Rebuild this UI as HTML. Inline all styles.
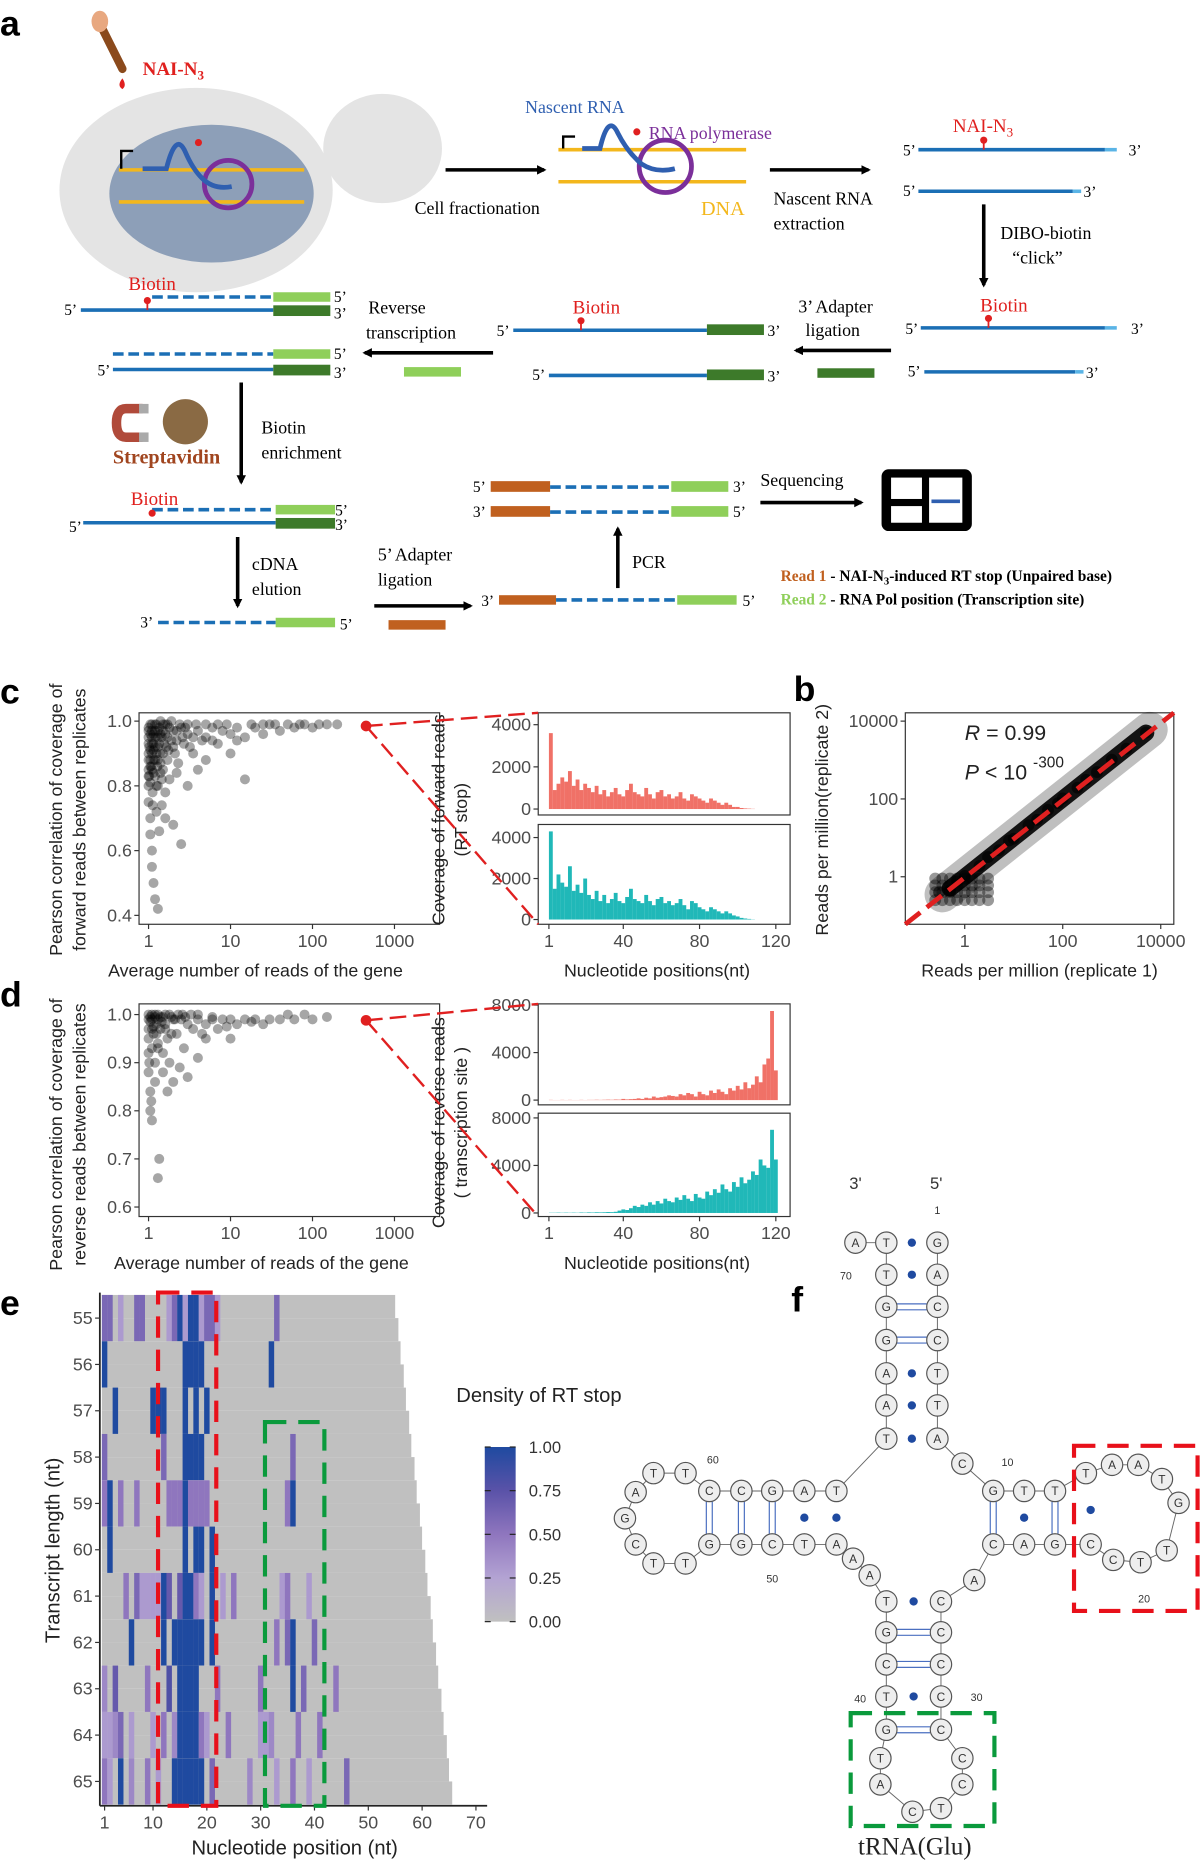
<!DOCTYPE html>
<html><head><meta charset="utf-8"><style>
html,body{margin:0;padding:0;background:#fff;}
svg{display:block;}
.sr{font-family:"Liberation Serif",serif;}
.ss{font-family:"Liberation Sans",sans-serif;}
</style></head><body>
<svg id="fig" width="1200" height="1864" viewBox="0 0 1010 1569" xmlns="http://www.w3.org/2000/svg">
<defs>
<marker id="ah" markerWidth="8" markerHeight="8" refX="6" refY="4" orient="auto" markerUnits="userSpaceOnUse"><path d="M0,0 L8,4 L0,8 z" fill="#000"/></marker>
<linearGradient id="cbar" x1="0" y1="1" x2="0" y2="0">
<stop offset="0" stop-color="#c0c0c0"/><stop offset="0.25" stop-color="#b3a3d3"/><stop offset="0.5" stop-color="#8f76be"/><stop offset="0.75" stop-color="#5a52a8"/><stop offset="1" stop-color="#1f4aa0"/></linearGradient>
</defs>

<!-- ============ PANEL A ============ -->
<g class="sr">
<text x="0" y="30" font-family="Liberation Sans" font-weight="900" font-size="30">a</text>
<g>
<line x1="84" y1="20" x2="103" y2="58" stroke="#8b4a1c" stroke-width="7" stroke-linecap="round"/>
<ellipse cx="84" cy="18" rx="7" ry="9" fill="#e8a880"/>
<path d="M103,66 q4,6 0,9 q-5,-3 0,-9z" fill="#e02020"/>
</g>
<text x="120" y="63" fill="#e0201e" font-weight="bold" font-size="16">NAI-N<tspan font-size="11" dy="4">3</tspan></text>
<ellipse cx="322" cy="125" rx="50" ry="46" fill="#e4e4e4"/>
<ellipse cx="165" cy="160" rx="115" ry="86" fill="#e4e4e4"/>
<ellipse cx="178" cy="163" rx="86" ry="58" fill="#8d9fb8"/>
<line x1="100" y1="143" x2="256" y2="143" stroke="#f3b71c" stroke-width="3"/>
<line x1="100" y1="170" x2="256" y2="170" stroke="#f3b71c" stroke-width="3"/>
<circle cx="192" cy="155" r="20" fill="none" stroke="#7b2f9a" stroke-width="4"/>
<path d="M120,142 L140,142 Q148,110 156,128 Q162,142 170,150 Q180,160 195,157" fill="none" stroke="#2f5fb0" stroke-width="4"/>
<path d="M102,142 L102,127 L112,127" fill="none" stroke="#000" stroke-width="2"/>
<circle cx="167" cy="120" r="3" fill="#e02020"/>
<line x1="375" y1="143" x2="458" y2="143" stroke="#000" stroke-width="3" marker-end="url(#ah)"/>
<text x="349" y="180" font-size="15">Cell fractionation</text>
<text x="442" y="95" font-size="15" fill="#2f5fb0">Nascent RNA</text>
<text x="546" y="117" font-size="15" fill="#7b2f9a">RNA polymerase</text>
<line x1="470" y1="126" x2="628" y2="126" stroke="#f3b71c" stroke-width="3"/>
<line x1="470" y1="153" x2="628" y2="153" stroke="#f3b71c" stroke-width="3"/>
<circle cx="560" cy="140" r="22" fill="none" stroke="#7b2f9a" stroke-width="4"/>
<path d="M490,125 L505,125 Q512,95 520,112 Q528,128 540,138 Q552,146 568,142" fill="none" stroke="#2f5fb0" stroke-width="4"/>
<path d="M474,125 L474,115 L484,115" fill="none" stroke="#000" stroke-width="2"/>
<circle cx="536" cy="111" r="3" fill="#e02020"/>
<text x="590" y="181" font-size="17" fill="#f3b71c">DNA</text>
<line x1="648" y1="143" x2="731" y2="143" stroke="#000" stroke-width="3" marker-end="url(#ah)"/>
<text x="651" y="172" font-size="15">Nascent RNA</text>
<text x="651" y="193" font-size="15">extraction</text>
<text x="802" y="111" font-size="16" fill="#e0201e">NAI-N<tspan font-size="11" dy="4">3</tspan></text>
<text x="760" y="131" font-size="13">5’</text><line x1="773" y1="126" x2="930" y2="126" stroke="#1b6fb5" stroke-width="3"/><line x1="930" y1="126" x2="940" y2="126" stroke="#5ab4e6" stroke-width="3"/><text x="950" y="131" font-size="13">3’</text>
<circle cx="828" cy="118" r="3" fill="#e02020"/><line x1="828" y1="118" x2="828" y2="126" stroke="#e02020" stroke-width="1.5"/>
<text x="760" y="165" font-size="13">5’</text><line x1="773" y1="161" x2="903" y2="161" stroke="#1b6fb5" stroke-width="3"/><line x1="903" y1="161" x2="910" y2="161" stroke="#5ab4e6" stroke-width="3"/><text x="912" y="166" font-size="13">3’</text>
<line x1="828" y1="172" x2="828" y2="240" stroke="#000" stroke-width="3" marker-end="url(#ah)"/>
<text x="842" y="201" font-size="15">DIBO-biotin</text><text x="852" y="222" font-size="15">“click”</text>
<text x="825" y="262" font-size="16" fill="#e0201e">Biotin</text>
<text x="762" y="281" font-size="13">5’</text><line x1="775" y1="276" x2="930" y2="276" stroke="#1b6fb5" stroke-width="3"/><line x1="930" y1="276" x2="940" y2="276" stroke="#5ab4e6" stroke-width="3"/><text x="952" y="281" font-size="13">3’</text>
<circle cx="832" cy="268" r="3" fill="#e02020"/><line x1="832" y1="268" x2="832" y2="276" stroke="#e02020" stroke-width="1.5"/>
<text x="764" y="317" font-size="13">5’</text><line x1="778" y1="313" x2="905" y2="313" stroke="#1b6fb5" stroke-width="3"/><line x1="905" y1="313" x2="912" y2="313" stroke="#5ab4e6" stroke-width="3"/><text x="914" y="318" font-size="13">3’</text>
<line x1="750" y1="295" x2="670" y2="295" stroke="#000" stroke-width="3" marker-end="url(#ah)"/>
<rect x="688" y="310" width="48" height="8" fill="#3d7a2a"/>
<text x="672" y="263" font-size="15">3’ Adapter</text><text x="678" y="283" font-size="15">ligation</text>
<text x="482" y="264" font-size="16" fill="#e0201e">Biotin</text>
<text x="418" y="283" font-size="13">5’</text><line x1="432" y1="278" x2="595" y2="278" stroke="#1b6fb5" stroke-width="3"/><rect x="595" y="273" width="48" height="9" fill="#3d7a2a"/><text x="646" y="283" font-size="13">3’</text>
<circle cx="489" cy="270" r="3" fill="#e02020"/><line x1="489" y1="270" x2="489" y2="278" stroke="#e02020" stroke-width="1.5"/>
<text x="448" y="320" font-size="13">5’</text><line x1="462" y1="316" x2="595" y2="316" stroke="#1b6fb5" stroke-width="3"/><rect x="595" y="311" width="48" height="9" fill="#3d7a2a"/><text x="646" y="321" font-size="13">3’</text>
<line x1="415" y1="297" x2="307" y2="297" stroke="#000" stroke-width="3" marker-end="url(#ah)"/>
<rect x="340" y="309" width="48" height="8" fill="#8fcf5a"/>
<text x="310" y="264" font-size="15">Reverse</text><text x="308" y="285" font-size="15">transcription</text>
<text x="108" y="244" font-size="16" fill="#e0201e">Biotin</text>
<line x1="128" y1="250" x2="230" y2="250" stroke="#1b6fb5" stroke-width="3" stroke-dasharray="9,4"/><rect x="230" y="246" width="48" height="8" fill="#8fcf5a"/><text x="281" y="254" font-size="13">5’</text>
<text x="54" y="265" font-size="13">5’</text><line x1="68" y1="261" x2="230" y2="261" stroke="#1b6fb5" stroke-width="3"/><rect x="230" y="257" width="48" height="9" fill="#3d7a2a"/><text x="281" y="268" font-size="13">3’</text>
<circle cx="124" cy="253" r="3" fill="#e02020"/><line x1="124" y1="253" x2="124" y2="261" stroke="#e02020" stroke-width="1.5"/>
<line x1="95" y1="298" x2="230" y2="298" stroke="#1b6fb5" stroke-width="3" stroke-dasharray="9,4"/><rect x="230" y="294" width="48" height="8" fill="#8fcf5a"/><text x="281" y="302" font-size="13">5’</text>
<text x="82" y="316" font-size="13">5’</text><line x1="95" y1="311" x2="230" y2="311" stroke="#1b6fb5" stroke-width="3"/><rect x="230" y="307" width="48" height="9" fill="#3d7a2a"/><text x="281" y="318" font-size="13">3’</text>
<line x1="203" y1="322" x2="203" y2="406" stroke="#000" stroke-width="3" marker-end="url(#ah)"/>
<path d="M120,344 L106,344 Q98,344 98,356 Q98,368 106,368 L120,368" fill="none" stroke="#b04a3a" stroke-width="8"/>
<rect x="117" y="340" width="8" height="8" fill="#aaa"/><rect x="117" y="364" width="8" height="8" fill="#aaa"/>
<circle cx="156" cy="355" r="19" fill="#8a6a44"/>
<text x="95" y="390" font-size="17" font-weight="bold" fill="#a0451f">Streptavidin</text>
<text x="220" y="365" font-size="15">Biotin</text><text x="220" y="386" font-size="15">enrichment</text>
<text x="110" y="425" font-size="16" fill="#e0201e">Biotin</text>
<line x1="128" y1="429" x2="232" y2="429" stroke="#1b6fb5" stroke-width="3" stroke-dasharray="9,4"/><rect x="232" y="425" width="50" height="8" fill="#8fcf5a"/><text x="282" y="434" font-size="13">5’</text>
<text x="58" y="448" font-size="13">5’</text><line x1="70" y1="440" x2="232" y2="440" stroke="#1b6fb5" stroke-width="3"/><rect x="232" y="436" width="50" height="9" fill="#3d7a2a"/><text x="282" y="446" font-size="13">3’</text>
<circle cx="128" cy="432" r="3" fill="#e02020"/>
<line x1="200" y1="452" x2="200" y2="510" stroke="#000" stroke-width="3" marker-end="url(#ah)"/>
<text x="212" y="480" font-size="15">cDNA</text><text x="212" y="501" font-size="15">elution</text>
<text x="118" y="528" font-size="13">3’</text><line x1="133" y1="524" x2="232" y2="524" stroke="#1b6fb5" stroke-width="3" stroke-dasharray="9,4"/><rect x="232" y="520" width="50" height="8" fill="#8fcf5a"/><text x="286" y="530" font-size="13">5’</text>
<line x1="315" y1="510" x2="396" y2="510" stroke="#000" stroke-width="3" marker-end="url(#ah)"/>
<rect x="327" y="522" width="48" height="8" fill="#c0601f"/>
<text x="318" y="472" font-size="15">5’ Adapter</text><text x="318" y="493" font-size="15">ligation</text>
<text x="405" y="510" font-size="13">3’</text><rect x="420" y="501" width="48" height="8" fill="#c0601f"/><line x1="468" y1="505" x2="570" y2="505" stroke="#1b6fb5" stroke-width="3" stroke-dasharray="9,4"/><rect x="570" y="501" width="50" height="8" fill="#8fcf5a"/><text x="625" y="510" font-size="13">5’</text>
<line x1="520" y1="495" x2="520" y2="445" stroke="#000" stroke-width="3" marker-end="url(#ah)"/>
<text x="532" y="478" font-size="15">PCR</text>
<text x="398" y="414" font-size="13">5’</text><rect x="413" y="405" width="50" height="9" fill="#c0601f"/><line x1="463" y1="410" x2="565" y2="410" stroke="#1b6fb5" stroke-width="3" stroke-dasharray="9,4"/><rect x="565" y="405" width="48" height="9" fill="#8fcf5a"/><text x="617" y="414" font-size="13">3’</text>
<text x="398" y="435" font-size="13">3’</text><rect x="413" y="426" width="50" height="9" fill="#c0601f"/><line x1="463" y1="431" x2="565" y2="431" stroke="#1b6fb5" stroke-width="3" stroke-dasharray="9,4"/><rect x="565" y="426" width="48" height="9" fill="#8fcf5a"/><text x="617" y="435" font-size="13">5’</text>
<line x1="640" y1="423" x2="725" y2="423" stroke="#000" stroke-width="3" marker-end="url(#ah)"/>
<text x="640" y="409" font-size="15">Sequencing</text>
<g>
<rect x="742" y="395" width="76" height="52" rx="6" fill="#000"/>
<rect x="750" y="402" width="26" height="18" fill="#fff"/><rect x="782" y="402" width="28" height="38" fill="#fff"/>
<rect x="750" y="426" width="26" height="14" fill="#fff"/><line x1="784" y1="422" x2="808" y2="422" stroke="#2f5fb0" stroke-width="3"/>
</g>
<text x="657" y="489" font-size="13" font-weight="bold"><tspan fill="#c0601f">Read 1</tspan> - NAI-N<tspan font-size="9" dy="3">3</tspan><tspan dy="-3">-induced RT stop (Unpaired base)</tspan></text>
<text x="657" y="509" font-size="13" font-weight="bold"><tspan fill="#8fcf5a">Read 2</tspan> - RNA Pol position (Transcription site)</text>
</g>

<g class="ss" font-family="Liberation Sans">
<text x="0" y="592" font-weight="900" font-size="30">c</text>
<text x="668" y="590" font-weight="900" font-size="30">b</text>
<text x="0" y="847" font-weight="900" font-size="30">d</text>
<text x="0" y="1107" font-weight="900" font-size="30">e</text>
<text x="666" y="1104" font-weight="900" font-size="30">f</text>
</g>
<g id="charts" font-family="Liberation Sans"></g>
<g id="trna" font-family="Liberation Sans"></g>
</svg>
<script>
const NS='http://www.w3.org/2000/svg';
// ---------- data ----------
const scatterC=[[1,0.98],[1,0.95],[1,0.9],[1,0.85],[1,0.8],[1,0.75],[1.05,0.7],[1.05,0.65],[1.1,0.6],[1.1,0.55],[1.15,0.5],[1.2,0.45],[1.3,0.42],[1.1,0.93],[1.2,0.88],[1.3,0.92],[1.3,0.8],[1.4,0.96],[1.5,0.85],[1.5,0.9],[1.6,0.78],[1.7,0.95],[1.8,0.82],[2,0.92],[2,0.68],[2.2,0.97],[2.3,0.87],[2.5,0.62],[2.7,0.93],[3,0.96],[3,0.8],[3.5,0.9],[4,0.97],[4,0.85],[5,0.95],[5,0.88],[6,0.98],[7,0.93],[8,0.97],[10,0.96],[10,0.9],[12,0.98],[15,0.95],[15,0.82],[20,0.98],[25,0.96],[30,0.99],[40,0.97],[50,0.99],[60,0.98],[80,0.99],[100,0.98],[120,0.99],[150,0.99],[1.2,0.99],[1.4,1.0],[1.6,0.99],[1.9,1.0],[2.4,0.99],[1.1,0.97],[1.25,0.72],[1.35,0.66],[1.45,0.74],[1.15,0.84],[1.7,0.88],[2.1,0.9],[1.05,0.88],[1.9,0.94],[2.8,0.98],[3.8,0.99],[6,0.94],[9,0.99],[18,0.99],[35,0.99],[450,0.985],[1.02,0.92],[1.08,0.86],[1.12,0.78],[1.22,0.95],[1.28,0.86],[1.38,0.9],[1.5,0.97],[1.65,0.92],[1.05,0.99],[1.15,0.91],[1.02,0.83],[2.6,0.95],[3.2,0.92],[4.5,0.94],[1.8,0.98],[1.3,0.97],[1.15,0.96],[1.45,0.82],[2.2,0.84],[1.6,0.7],
[1,0.97],[1,0.93],[1,0.88],[1,0.83],[1.05,0.96],[1.05,0.91],[1.05,0.86],[1.05,0.81],[1.1,0.99],[1.1,0.95],[1.1,0.9],[1.1,0.85],[1.15,0.93],[1.15,0.88],[1.2,0.97],[1.2,0.92],[1.2,0.83],[1.25,0.99],[1.25,0.9],[1.3,0.95],[1.3,0.88],[1.35,0.98],[1.35,0.93],[1.4,0.87],[1.45,0.95],[1.5,0.99],[1.55,0.93],[1.6,0.96],[1.7,0.99],[1.75,0.91],[2,0.97],[2.2,0.94],[2.5,0.98],[3,0.99],[3.5,0.95],[5,0.99],[7,0.99],[12,0.94],[25,0.99],[70,0.99],[200,0.99],[1.4,0.84],[1.25,0.8],[1.12,0.74]];
const scatterD=[[1,0.99],[1,0.97],[1,0.95],[1,0.92],[1,0.88],[1.05,0.84],[1.05,0.8],[1.1,0.78],[1.1,0.93],[1.15,0.96],[1.2,0.9],[1.2,0.86],[1.3,0.99],[1.3,0.94],[1.35,0.7],[1.3,0.66],[1.4,0.97],[1.5,0.92],[1.5,0.88],[1.6,0.98],[1.7,0.95],[1.8,0.9],[2,0.99],[2,0.86],[2.2,0.96],[2.5,0.99],[2.7,0.93],[3,0.98],[3,0.87],[3.5,0.97],[4,0.99],[4,0.91],[5,0.98],[5,0.95],[6,0.99],[7,0.97],[8,0.99],[10,0.99],[10,0.95],[12,0.98],[15,0.99],[20,0.99],[25,0.98],[30,0.99],[40,0.99],[50,1.0],[60,0.99],[80,1.0],[100,0.99],[150,0.995],[1.1,1.0],[1.2,1.0],[1.4,0.995],[1.6,1.0],[1.9,0.995],[2.3,1.0],[2.8,0.995],[3.3,1.0],[1.05,0.985],[1.15,0.975],[1.25,0.98],[1.45,0.985],[450,0.988],[1.02,0.9],[1.08,0.82],[1.7,0.84],[2.4,0.89],[1.9,0.96],[4.5,0.96],[9,0.975],[18,0.985],[1.3,0.93],
[1,1.0],[1.05,0.995],[1.1,0.99],[1.2,0.995],[1.3,1.0],[1.5,0.995],[1.8,1.0],[2.1,0.99],[2.6,1.0],[4,1.0],[6,0.995],[1.1,0.97],[1.25,0.96],[1.6,0.97]];
const histCats=[];for(let i=0;i<60;i++)histCats.push(1+i*2);
const fwdRep1=[3600,900,1200,1500,1300,1800,1100,1400,900,1200,1000,800,1100,700,900,600,800,1000,700,600,900,1200,800,700,600,1000,700,500,800,900,600,700,500,600,800,500,400,700,600,500,400,300,500,400,300,200,300,200,100,100,50,30,20,10,0,0,0,0,0,0];
const fwdRep2=[4300,1500,2200,1800,1600,2600,1400,1700,1300,2000,1200,1000,1400,900,1200,800,1000,1300,900,800,1100,1500,1000,900,800,1200,900,700,1000,1100,800,900,700,800,1000,700,500,900,800,600,500,400,600,500,400,300,400,300,200,150,80,50,30,10,0,0,0,0,0,0];
const revRep1=[20,10,10,20,10,20,10,10,20,10,20,20,30,20,30,40,30,50,40,100,60,80,100,150,100,200,150,300,200,250,300,400,350,300,500,400,600,500,300,700,500,400,800,600,900,700,500,1000,800,1200,900,1500,1000,1300,2000,1500,3000,3500,7500,2500];
const revRep2=[20,20,30,20,30,20,30,20,40,30,50,40,60,50,60,80,70,100,200,300,250,400,600,500,700,600,900,700,1000,800,1200,1000,900,1300,1100,1500,1200,1000,1600,1300,1200,1800,1500,2000,1700,2400,2000,1800,2600,2200,3000,2500,2800,3500,3200,4500,4000,3800,7000,4500];
const corrRep1=[0.3,0.5,0.7,1,2,3,5,8,10,20,30,50,80,100,200,300,500,1000,2000,5000];
const corrRep2=[0.4,0.45,0.75,1.05,1.9,3.2,4.8,8.5,9.5,21,29,52,78,103,195,310,490,1020,1950,5100];
const lowRep1=[0.25,0.35,0.5,0.7,1,1.4,2,3];
const lowLevels=[0.25,0.4,0.6,0.9];
const heatLengths=[55,56,57,58,59,60,61,62,63,64,65];
const heatValues=[
 [[1,0.6],[2,0.6],[4,0.3],[7,0.6],[8,0.6],[13,0.3],[14,0.6],[15,1],[16,0.3],[17,1],[18,1],[19,0.3],[20,0.6],[21,0.6],[22,0.3],[33,0.6]],
 [[1,1],[16,1],[17,1],[18,1],[19,1],[32,1]],
 [[3,1],[10,1],[11,1],[12,1],[16,1],[18,1],[20,1]],
 [[1,0.6],[12,0.6],[16,1],[17,1],[18,1],[19,1],[36,0.6]],
 [[1,0.5],[2,1],[4,0.5],[7,0.5],[13,0.5],[14,0.5],[15,0.5],[16,1],[17,0.5],[18,0.5],[19,0.5],[20,0.5],[35,0.5],[36,1]],
 [[2,1],[16,1],[18,1],[19,1],[21,1]],
 [[5,0.5],[7,0.6],[8,0.3],[9,0.3],[10,0.3],[11,0.3],[12,1],[13,0.7],[15,0.7],[16,1],[17,1],[18,0.5],[19,0.3],[21,1],[23,0.3],[25,0.5],[34,0.3],[35,0.5],[39,0.3]],
 [[6,1],[12,1],[14,1],[15,1],[16,1],[17,1],[18,1],[19,1],[21,1],[33,0.5],[35,0.6],[36,1],[40,0.6]],
 [[1,0.4],[3,0.7],[9,0.5],[13,0.8],[15,1],[16,1],[17,1],[18,1],[22,0.5],[30,0.5],[36,1],[38,0.6],[44,0.5]],
 [[1,0.3],[2,0.3],[3,0.4],[4,0.6],[6,0.3],[10,0.3],[12,0.5],[14,0.4],[15,1],[16,1],[17,1],[18,1],[19,0.5],[20,0.3],[24,0.5],[30,0.3],[31,0.3],[32,0.4],[37,0.5],[41,0.5]],
 [[1,0.5],[2,0.3],[4,1],[6,0.4],[9,0.5],[11,0.3],[14,1],[15,1],[16,1],[17,1],[18,1],[19,1],[21,0.6],[28,0.4],[33,0.3],[36,0.5],[39,0.3],[46,0.6]]];
const trnaNodes=[[789,1046,'G'],[789,1073,'A'],[789,1100,'C'],[789,1128,'C'],[789,1156,'T'],[789,1183,'T'],[789,1211,'A'],[810,1232,'C'],[836,1255,'G'],[862,1255,'T'],[888,1255,'T'],[914,1240,'T'],[936,1233,'A'],[958,1233,'A'],[978,1245,'T'],[992,1265,'G'],[982,1305,'T'],[960,1315,'T'],[937,1313,'C'],[918,1300,'C'],[888,1300,'G'],[862,1300,'A'],[836,1300,'C'],[820,1330,'A'],[792,1348,'C'],[792,1374,'C'],[792,1401,'C'],[792,1428,'C'],[792,1456,'C'],[810,1480,'C'],[810,1502,'C'],[792,1522,'T'],[768,1525,'C'],[741,1502,'A'],[741,1480,'T'],[746,1456,'G'],[746,1428,'T'],[746,1401,'C'],[746,1374,'G'],[746,1348,'T'],[732,1326,'A'],[718,1312,'A'],[704,1300,'A'],[677,1300,'T'],[650,1300,'C'],[624,1300,'G'],[597,1300,'G'],[577,1316,'T'],[550,1316,'T'],[535,1300,'C'],[526,1278,'G'],[535,1256,'A'],[550,1240,'T'],[577,1240,'T'],[597,1255,'C'],[624,1255,'C'],[650,1255,'G'],[677,1255,'A'],[704,1255,'T'],[746,1211,'T'],[746,1183,'A'],[746,1156,'A'],[746,1128,'G'],[746,1100,'G'],[746,1073,'T'],[746,1046,'T'],[720,1046,'A']];

// ---------- helpers ----------
const charts=document.getElementById('charts');
function mk(tag,attrs,parent){const e=document.createElementNS(NS,tag);for(const k in attrs)e.setAttribute(k,attrs[k]);(parent||charts).appendChild(e);return e;}
function txt(x,y,s,size,anchor,parent,extra){const t=mk('text',Object.assign({x:x,y:y,'font-size':size,'text-anchor':anchor||'start',fill:'#222'},extra||{}),parent);t.textContent=s;return t;}
function frame(x,y,w,h,name){const r=mk('rect',{x:x,y:y,width:w,height:h,fill:'none',stroke:'#333','stroke-width':1});

}
function yTicks(vals,labels,fy,x0,name){vals.forEach((v,i)=>{const y=fy(v);mk('line',{x1:x0-4,y1:y,x2:x0,y2:y,stroke:'#333'});const t=txt(x0-6,y+5,labels[i],15,'end',null,{fill:'#4d4d4d'});

});}
function xTicks(vals,labels,fx,y0,name){vals.forEach((v,i)=>{const x=fx(v);mk('line',{x1:x,y1:y0,x2:x,y2:y0+4,stroke:'#333'});const t=txt(x,y0+19,labels[i],15,'middle',null,{fill:'#4d4d4d'});

});}
function rotText(x,y,s,size,name){const t=txt(x,y,s,size,'middle',null,{transform:'rotate(-90 '+x+' '+y+')'});

}
const lg=v=>Math.log10(v);

// ---------- scatter panels c, d ----------
function scatter(data,top,bottom,fy,yv,yl,name,hiIdx){
 const fx=v=>125+lg(v)*69;
 frame(117,top,253,bottom-top,name+'-plot-area');
 yTicks(yv,yl,fy,117,name+'-y');
 xTicks([1,10,100,1000],['1','10','100','1000'],fx,bottom,name+'-x');
 data.forEach(d=>{const c=mk('circle',{cx:fx(d[0]),cy:fy(d[1]),r:4.2,fill:'#000','fill-opacity':0.35});
 
 });
 const hp=data[hiIdx];
 const hl=mk('circle',{cx:fx(hp[0]),cy:fy(hp[1]),r:4.5,fill:'#e02020'});
 
 
 return [fx(hp[0]),fy(hp[1])];
}
const fyC=r=>607+(1-r)*272.5;
const pC=scatter(scatterC,600,778,fyC,[1,0.8,0.6,0.4],['1.0','0.8','0.6','0.4'],'scatter-c',74);
rotText(52,690,'Pearson correlation of coverage of',15,'scatter-c-y-title-line1');
rotText(72,690,'forward reads between replicates',15,'scatter-c-y-title-line2');
{const t=txt(215,822,'Average number of reads of the gene',15,'middle');

}
const fyD=r=>854+(1-r)*405;
const pD=scatter(scatterD,845,1024,fyD,[1,0.9,0.8,0.7,0.6],['1.0','0.9','0.8','0.7','0.6'],'scatter-d',62);
rotText(52,955,'Pearson correlation of coverage of',15,'scatter-d-y-title-line1');
rotText(72,955,'reverse reads between replicates',15,'scatter-d-y-title-line2');
{const t=txt(220,1068,'Average number of reads of the gene',15,'middle');

}

// ---------- histograms ----------
const hx=nt=>462+(nt-1)*(191/119);
function hist(vals,top,bottom,y0px,ymaxPx,ymax,tv,tl,color,name,showX){
 frame(453,top,212,bottom-top,name+'-plot-area');
 const fy=v=>y0px-(v/ymax)*(y0px-ymaxPx);
 yTicks(tv,tl,fy,453,name+'-y');
 vals.forEach((v,i)=>{const x=hx(histCats[i]);const y=fy(v);const b=mk('rect',{x:x,y:y,width:3.25,height:y0px-y,fill:color});
 
 });
 if(showX)xTicks([1,40,80,120],['1','40','80','120'],hx,bottom,name+'-x');
}
hist(fwdRep1,600,686,681,610,4000,[0,2000,4000],['0','2000','4000'],'#f07167','hist-forward-rep1',false);
hist(fwdRep2,694,778,774,705,4000,[0,2000,4000],['0','2000','4000'],'#20b8b8','hist-forward-rep2',true);
hist(revRep1,845,930,926,846,8000,[0,4000,8000],['0','4000','8000'],'#f07167','hist-reverse-rep1',false);
hist(revRep2,937,1024,1021,941,8000,[0,4000,8000],['0','4000','8000'],'#20b8b8','hist-reverse-rep2',true);
rotText(374,690,'Coverage of forward reads',15,'hist-forward-y-title');
rotText(393,690,'(RT stop)',15,'hist-forward-y-subtitle');
rotText(374,945,'Coverage of reverse reads',15,'hist-reverse-y-title');
rotText(393,945,'( transcription site )',15,'hist-reverse-y-subtitle');
{const t=txt(553,822,'Nucleotide positions(nt)',15,'middle');

}
{const t=txt(553,1068,'Nucleotide positions(nt)',15,'middle');

}
[[pC,600,778],[pD,845,1024]].forEach(z=>{[z[1],z[2]].forEach(yy=>{const l=mk('line',{x1:z[0][0],y1:z[0][1],x2:453,y2:yy,stroke:'#e02020','stroke-width':2,'stroke-dasharray':'14,6'});

});});

// ---------- panel b ----------
const bx=v=>812+lg(v)*41.25, by=v=>738-lg(v)*32.75;
frame(762,600,226,178,'scatter-b-plot-area');
yTicks([1,100,10000],['1','100','10000'],by,762,'scatter-b-y');
xTicks([1,100,10000],['1','100','10000'],bx,778,'scatter-b-x');
{const l=mk('line',{x1:bx(0.35),y1:by(0.35),x2:bx(6000),y2:by(6000),stroke:'#000','stroke-opacity':0.25,'stroke-width':30,'stroke-linecap':'round'});

}
{const l=mk('line',{x1:bx(0.5),y1:by(0.5),x2:bx(5000),y2:by(5000),stroke:'#000','stroke-opacity':0.9,'stroke-width':14,'stroke-linecap':'round'});

}
corrRep1.forEach((v,i)=>{const c=mk('circle',{cx:bx(v),cy:by(corrRep2[i]),r:5,fill:'#000','fill-opacity':0.6});

});
lowLevels.forEach(yv=>lowRep1.forEach(xv=>{const c=mk('circle',{cx:bx(xv),cy:by(yv),r:5,fill:'#000','fill-opacity':0.4});

}));
{const l=mk('line',{x1:762,y1:778,x2:988,y2:600,stroke:'#e02020','stroke-width':4,'stroke-dasharray':'16,7'});

}
{const t=txt(812,623,'',18,'start');t.innerHTML='<tspan font-style="italic">R</tspan> = 0.99';

}
{const t=txt(812,656,'',18,'start');t.innerHTML='<tspan font-style="italic">P</tspan> &lt; 10 <tspan dy="-10" font-size="13">-300</tspan>';

}
rotText(697,690,'Reads per million(replicate 2)',15,'scatter-b-y-title');
{const t=txt(875,822,'Reads per million (replicate 1)',15,'middle');

}

// ---------- panel e heatmap ----------
const ex=nt=>88+(nt-1)*4.53, rowH=39, eTop=1090;
function heatColor(v){const stops=[[0,[192,192,192]],[0.25,[179,163,211]],[0.5,[143,118,190]],[0.75,[90,82,168]],[1,[31,74,160]]];for(let i=1;i<stops.length;i++){if(v<=stops[i][0]){const a=stops[i-1],b=stops[i];const t=(v-a[0])/(b[0]-a[0]);const c=a[1].map((q,j)=>Math.round(q+(b[1][j]-q)*t));return 'rgb('+c.join(',')+')';}}return 'rgb(31,74,160)';}
heatLengths.forEach((L,i)=>{const y=eTop+i*rowH;
 const g1=mk('rect',{x:ex(1)-2.3,y:y,width:(L-0.5)*4.53,height:rowH/2,fill:'#c0c0c0'});
 
 
 const g2=mk('rect',{x:ex(1)-2.3,y:y+rowH/2,width:(L+0.1)*4.53,height:rowH/2,fill:'#c0c0c0'});
 
 
 heatValues[i].forEach(c=>{const r=mk('rect',{x:ex(c[0])-2.3,y:y,width:4.6,height:rowH,fill:heatColor(c[1])});
 
 });
});
mk('line',{x1:84,y1:1088,x2:84,y2:1520,stroke:'#222','stroke-width':1.5});
mk('line',{x1:84,y1:1520,x2:410,y2:1520,stroke:'#222','stroke-width':1.5});
yTicks(heatLengths,heatLengths.map(String),L=>eTop+(L-55)*rowH+rowH/2,84,'heatmap-y');
xTicks([1,10,20,30,40,50,60,70],['1','10','20','30','40','50','60','70'],ex,1520,'heatmap-x');
{const r=mk('rect',{x:133,y:1088,width:49,height:432,fill:'none',stroke:'#e8101a','stroke-width':3.5,'stroke-dasharray':'18,10'});

}
{const r=mk('rect',{x:223,y:1197,width:50,height:323,fill:'none',stroke:'#0a9a3c','stroke-width':3.5,'stroke-dasharray':'18,10'});

}
rotText(50,1305,'Transcript length (nt)',17,'heatmap-y-title');
{const t=txt(248,1561,'Nucleotide position (nt)',17,'middle');

}
{const t=txt(384,1180,'Density of RT stop',17,'start');

}
{const r=mk('rect',{x:408,y:1218,width:26,height:147,fill:'url(#cbar)'});

}
['1.00','0.75','0.50','0.25','0.00'].forEach((s,i)=>{const y=1218+i*36.75;mk('line',{x1:408,y1:y,x2:413,y2:y,stroke:'#222'});mk('line',{x1:429,y1:y,x2:434,y2:y,stroke:'#222'});const t=txt(445,y+5,s,14,'start',null,{fill:'#333'});

});

// ---------- panel f tRNA ----------
const tr=document.getElementById('trna');
for(let i=0;i<trnaNodes.length-1;i++){const a=trnaNodes[i],b=trnaNodes[i+1];mk('line',{x1:a[0],y1:a[1],x2:b[0],y2:b[1],stroke:'#666','stroke-width':0.8},tr);}
function pair(a,b,type){const A=trnaNodes[a],B=trnaNodes[b];const mx=(A[0]+B[0])/2,my=(A[1]+B[1])/2;
 if(type==='dot'){const c=mk('circle',{cx:mx,cy:my,r:3.5,fill:'#1f4aa0'},tr);
 
 }
 else{const dx=B[0]-A[0],dy=B[1]-A[1],len=Math.hypot(dx,dy),nx=-dy/len*2.5,ny=dx/len*2.5;[1,-1].forEach(s=>mk('line',{x1:A[0]+dx/len*9+nx*s,y1:A[1]+dy/len*9+ny*s,x2:B[0]-dx/len*9+nx*s,y2:B[1]-dy/len*9+ny*s,stroke:'#4a6fc0','stroke-width':1},tr));}}
[[0,65,'dot'],[1,64,'dot'],[2,63,'dbl'],[3,62,'dbl'],[4,61,'dot'],[5,60,'dot'],[6,59,'dot'],[8,22,'dbl'],[9,21,'dot'],[10,20,'dbl'],[24,39,'dot'],[25,38,'dbl'],[26,37,'dbl'],[27,36,'dot'],[28,35,'dbl'],[42,58,'dot'],[43,57,'dot'],[44,56,'dbl'],[45,55,'dbl'],[46,54,'dbl']].forEach(p=>pair(p[0],p[1],p[2]));
{const c=mk('circle',{cx:918,cy:1271,r:3.5,fill:'#1f4aa0'},tr);

}
trnaNodes.forEach(n=>{const c=mk('circle',{cx:n[0],cy:n[1],r:9,fill:'#eeeeee',stroke:'#555','stroke-width':1},tr);


const t=txt(n[0],n[1]+3.6,n[2],10,'middle',tr,{fill:'#333'});

});
[[720,1001,"3'",14],[788,1001,"5'",14],[789,1022,'1',9],[712,1077,'70',9],[848,1234,'10',9],[600,1232,'60',9],[650,1332,'50',9],[963,1349,'20',9],[724,1433,'40',9],[822,1432,'30',9]].forEach(l=>{const t=txt(l[0],l[1],l[2],l[3],'middle',tr,{fill:'#333'});

});
{const r=mk('rect',{x:904,y:1217,width:104,height:139,fill:'none',stroke:'#e8101a','stroke-width':3.5,'stroke-dasharray':'18,10'},tr);

}
{const r=mk('rect',{x:716,y:1442,width:121,height:95,fill:'none',stroke:'#0a9a3c','stroke-width':3.5,'stroke-dasharray':'18,10'},tr);

}
{const t=txt(770,1561,'tRNA(Glu)',21,'middle',tr,{'font-family':'Liberation Serif'});

}
</script>
</body></html>
